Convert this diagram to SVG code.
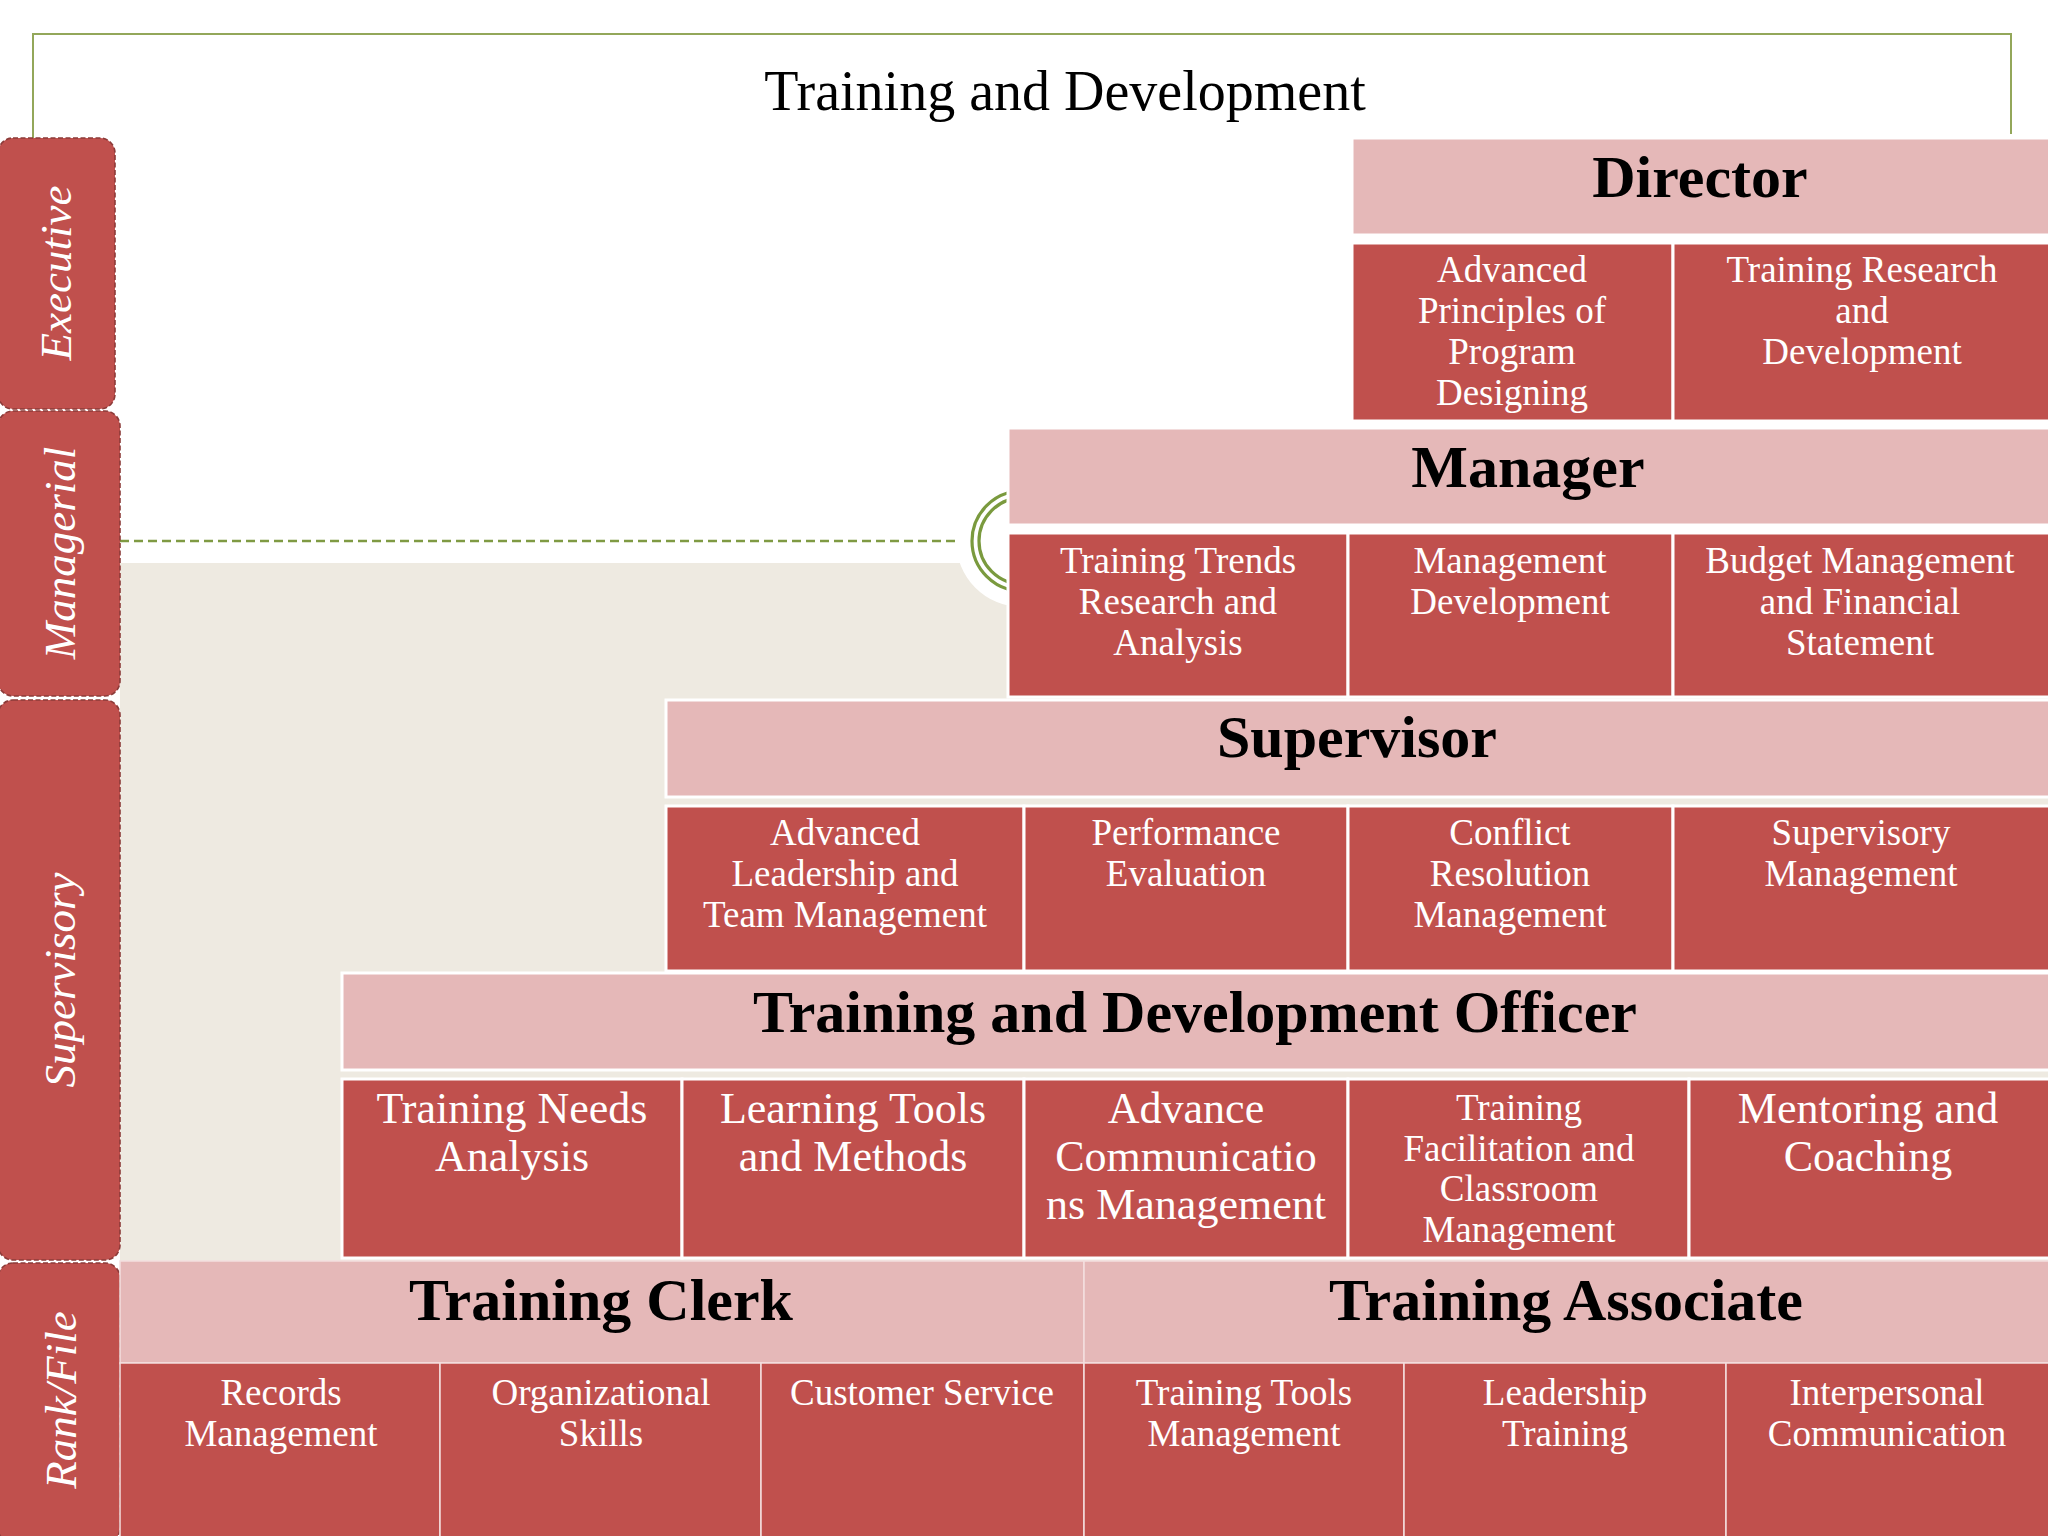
<svg xmlns="http://www.w3.org/2000/svg" width="2048" height="1536" viewBox="0 0 2048 1536">
<style>
.hdr{fill:#e5b8b8;stroke:#ffffff;stroke-width:3}
.cell{fill:#c0504d;stroke:#ffffff;stroke-width:3}
.bcell{fill:#c0504d;stroke:#f3dede;stroke-width:1.5}
.bhdr{fill:#e5b8b8;stroke:#f3dede;stroke-width:1.5}
.tab{fill:#c0504d;stroke:#8c3b39;stroke-width:1.6;stroke-dasharray:5 2.5}
.ht{font-family:"Liberation Serif","Times New Roman",serif;font-weight:bold;font-size:60px;fill:#000000;text-anchor:middle}
.ct{font-family:"Liberation Serif","Times New Roman",serif;font-size:37px;fill:#ffffff;text-anchor:middle}
.ctl{font-family:"Liberation Serif","Times New Roman",serif;font-size:44px;fill:#ffffff;text-anchor:middle}
.tt{font-family:"Liberation Serif","Times New Roman",serif;font-style:italic;font-size:45px;fill:#ffffff;text-anchor:middle}
</style>
<defs>
<clipPath id="ringclip"><rect x="900" y="440" width="107" height="200"/></clipPath>
</defs>
<rect x="0" y="0" width="2048" height="1536" fill="#ffffff"/>
<rect x="120" y="563" width="1928" height="973" fill="#eeeae1"/>
<g id="decor">
<circle cx="1022" cy="541" r="66" fill="#ffffff"/>
<line x1="120" y1="541" x2="956" y2="541" stroke="#7f9a43" stroke-width="2.5" stroke-dasharray="9 5"/>
<g clip-path="url(#ringclip)">
<circle cx="1022" cy="541" r="50" fill="none" stroke="#7a9a3e" stroke-width="3.2"/>
<circle cx="1022" cy="541" r="43" fill="none" stroke="#7a9a3e" stroke-width="3.2"/>
</g>
<polyline points="33,138 33,34 2011,34 2011,134" fill="none" stroke="#93a75a" stroke-width="2"/>
<text x="1065" y="110" font-family="Liberation Serif, Times New Roman, serif" font-size="56" fill="#000000" text-anchor="middle">Training and Development</text>
</g>
<g id="tab-executive">
<rect class="tab" x="-2" y="138" width="117" height="271" rx="15"/>
<text class="tt" transform="translate(71,273) rotate(-90)">Executive</text>
</g>
<g id="tab-managerial">
<rect class="tab" x="-2" y="411" width="122" height="285" rx="15"/>
<text class="tt" transform="translate(75,553) rotate(-90)">Managerial</text>
</g>
<g id="tab-supervisory">
<rect class="tab" x="-2" y="700" width="122" height="560" rx="15"/>
<text class="tt" transform="translate(75,980) rotate(-90)">Supervisory</text>
</g>
<g id="tab-rankfile">
<rect class="tab" x="-2" y="1263" width="122" height="280" rx="15"/>
<text class="tt" transform="translate(76,1400) rotate(-90)">Rank/File</text>
</g>
<g id="director">
<rect class="hdr" x="1352" y="138" width="700" height="97"/>
<text class="ht" x="1700" y="197">Director</text>
<rect class="cell" x="1352" y="243" width="321" height="178"/>
<text class="ct" x="1512"><tspan x="1512" y="282">Advanced</tspan><tspan x="1512" y="323">Principles of</tspan><tspan x="1512" y="364">Program</tspan><tspan x="1512" y="405">Designing</tspan></text>
<rect class="cell" x="1673" y="243" width="379" height="178"/>
<text class="ct"><tspan x="1862" y="282">Training Research</tspan><tspan x="1862" y="323">and</tspan><tspan x="1862" y="364">Development</tspan></text>
</g>
<g id="manager">
<rect class="hdr" x="1008" y="428" width="1044" height="97"/>
<text class="ht" x="1528" y="487">Manager</text>
<rect class="cell" x="1008" y="533" width="340" height="164"/>
<text class="ct"><tspan x="1178" y="573">Training Trends</tspan><tspan x="1178" y="614">Research and</tspan><tspan x="1178" y="655">Analysis</tspan></text>
<rect class="cell" x="1348" y="533" width="325" height="164"/>
<text class="ct"><tspan x="1510" y="573">Management</tspan><tspan x="1510" y="614">Development</tspan></text>
<rect class="cell" x="1673" y="533" width="379" height="164"/>
<text class="ct"><tspan x="1860" y="573">Budget Management</tspan><tspan x="1860" y="614">and Financial</tspan><tspan x="1860" y="655">Statement</tspan></text>
</g>
<g id="supervisor">
<rect class="hdr" x="666" y="700" width="1386" height="97"/>
<text class="ht" x="1357" y="757">Supervisor</text>
<rect class="cell" x="666" y="806" width="358" height="165"/>
<text class="ct"><tspan x="845" y="845">Advanced</tspan><tspan x="845" y="886">Leadership and</tspan><tspan x="845" y="927">Team Management</tspan></text>
<rect class="cell" x="1024" y="806" width="324" height="165"/>
<text class="ct"><tspan x="1186" y="845">Performance</tspan><tspan x="1186" y="886">Evaluation</tspan></text>
<rect class="cell" x="1348" y="806" width="325" height="165"/>
<text class="ct"><tspan x="1510" y="845">Conflict</tspan><tspan x="1510" y="886">Resolution</tspan><tspan x="1510" y="927">Management</tspan></text>
<rect class="cell" x="1673" y="806" width="379" height="165"/>
<text class="ct"><tspan x="1861" y="845">Supervisory</tspan><tspan x="1861" y="886">Management</tspan></text>
</g>
<g id="tdo">
<rect class="hdr" x="342" y="973" width="1710" height="97"/>
<text class="ht" x="1195" y="1032">Training and Development Officer</text>
<rect class="cell" x="342" y="1079" width="340" height="179"/>
<text class="ctl"><tspan x="512" y="1123">Training Needs</tspan><tspan x="512" y="1171">Analysis</tspan></text>
<rect class="cell" x="682" y="1079" width="342" height="179"/>
<text class="ctl"><tspan x="853" y="1123">Learning Tools</tspan><tspan x="853" y="1171">and Methods</tspan></text>
<rect class="cell" x="1024" y="1079" width="324" height="179"/>
<text class="ctl"><tspan x="1186" y="1123">Advance</tspan><tspan x="1186" y="1171">Communicatio</tspan><tspan x="1186" y="1219">ns Management</tspan></text>
<rect class="cell" x="1348" y="1079" width="341" height="179"/>
<text class="ct"><tspan x="1519" y="1120">Training</tspan><tspan x="1519" y="1161">Facilitation and</tspan><tspan x="1519" y="1201">Classroom</tspan><tspan x="1519" y="1242">Management</tspan></text>
<rect class="cell" x="1689" y="1079" width="363" height="179"/>
<text class="ctl"><tspan x="1868" y="1123">Mentoring and</tspan><tspan x="1868" y="1171">Coaching</tspan></text>
</g>
<g id="training-clerk">
<rect class="bhdr" x="120" y="1261" width="964" height="102"/>
<text class="ht" x="601" y="1320">Training Clerk</text>
<rect class="bcell" x="120" y="1363" width="320" height="180"/>
<text class="ct"><tspan x="281" y="1405">Records</tspan><tspan x="281" y="1446">Management</tspan></text>
<rect class="bcell" x="440" y="1363" width="321" height="180"/>
<text class="ct"><tspan x="601" y="1405">Organizational</tspan><tspan x="601" y="1446">Skills</tspan></text>
<rect class="bcell" x="761" y="1363" width="323" height="180"/>
<text class="ct"><tspan x="922" y="1405">Customer Service</tspan></text>
</g>
<g id="training-associate">
<rect class="bhdr" x="1084" y="1261" width="968" height="102"/>
<text class="ht" x="1566" y="1320">Training Associate</text>
<rect class="bcell" x="1084" y="1363" width="320" height="180"/>
<text class="ct"><tspan x="1244" y="1405">Training Tools</tspan><tspan x="1244" y="1446">Management</tspan></text>
<rect class="bcell" x="1404" y="1363" width="322" height="180"/>
<text class="ct"><tspan x="1565" y="1405">Leadership</tspan><tspan x="1565" y="1446">Training</tspan></text>
<rect class="bcell" x="1726" y="1363" width="326" height="180"/>
<text class="ct"><tspan x="1887" y="1405">Interpersonal</tspan><tspan x="1887" y="1446">Communication</tspan></text>
</g>
<g id="connectors"></g>
</svg>
